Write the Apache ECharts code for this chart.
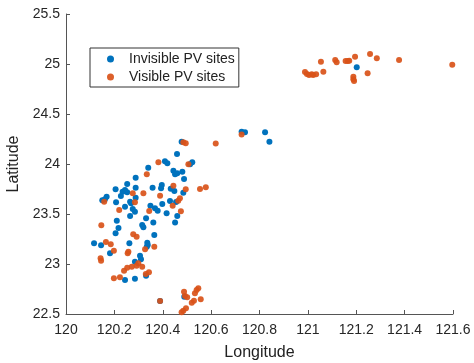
<!DOCTYPE html>
<html>
<head>
<meta charset="utf-8">
<script src="https://cdn.jsdelivr.net/npm/echarts@6/dist/echarts.min.js"></script>
<style>html,body{margin:0;padding:0;background:#fff}#c{width:474px;height:363px}</style>
</head>
<body>
<div id="c"></div>
<script>
// Invisible PV sites: [longitude, latitude]
const invisibleSites = [
[120.459,24.10],[120.409,24.027],[120.419,24.007],[120.522,24.017],[120.340,23.963],
[120.444,23.933],[120.460,23.907],[120.481,23.923],[120.451,23.897],[120.288,23.863],
[120.488,23.85],[120.253,23.80],[120.205,23.747],[120.288,23.763],[120.358,23.763],
[120.396,23.79],[120.393,23.757],[120.433,23.753],[120.234,23.723],[120.244,23.74],
[120.253,23.717],[120.227,23.68],[120.168,23.673],[120.161,23.647],[120.150,23.637],
[120.207,23.617],[120.288,23.663],[120.448,23.73],[120.485,23.713],[120.265,23.623],
[120.269,23.607],[120.430,23.63],[120.455,23.62],[120.244,23.573],[120.398,23.60],
[120.276,23.55],[120.285,23.523],[120.368,23.557],[120.379,23.533],[120.416,23.507],
[120.460,23.48],[120.349,23.583],[120.210,23.433],[120.265,23.48],[120.331,23.457],
[120.315,23.39],[120.320,23.367],[120.361,23.415],[120.451,23.415],[120.217,23.36],
[120.205,23.307],[120.365,23.29],[120.116,23.207],[120.145,23.187],[120.182,23.107],
[120.262,23.207],[120.336,23.213],[120.338,23.19],[120.334,23.173],[120.306,23.083],
[120.310,23.047],[120.285,23.023],[120.244,22.84],[120.285,22.853],[120.331,22.883],
[120.489,22.673],[120.389,22.63],[120.478,24.223],[120.726,24.323],[120.740,24.317],
[120.823,24.317],[120.841,24.223],[121.202,24.967],[120.513,23.997]
];
// Visible PV sites: [longitude, latitude]
const visibleSites = [
[120.485,24.217],[120.495,24.207],[120.619,24.205],[120.726,24.295],[120.382,24.017],
[120.506,23.997],[120.334,23.897],[120.444,23.783],[120.495,23.747],[120.554,23.75],
[120.578,23.767],[120.276,23.707],[120.320,23.707],[120.389,23.683],[120.158,23.623],
[120.285,23.617],[120.471,23.657],[120.464,23.633],[120.441,23.583],[120.220,23.54],
[120.344,23.53],[120.475,23.527],[120.146,23.387],[120.278,23.297],[120.292,23.273],
[120.165,23.22],[120.185,23.197],[120.198,23.133],[120.143,23.057],[120.145,23.033],
[120.258,23.123],[120.255,23.107],[120.327,23.147],[120.365,23.173],[120.240,22.933],
[120.253,22.963],[120.272,22.973],[120.292,22.983],[120.299,23.007],[120.315,22.973],
[120.343,22.917],[120.330,22.90],[120.198,22.857],[120.223,22.867],[120.389,22.63],
[120.488,22.723],[120.492,22.68],[120.501,22.667],[120.547,22.757],[120.540,22.74],
[120.533,22.707],[120.557,22.647],[120.529,22.633],[120.520,22.613],[120.496,22.557],
[120.485,22.533],[120.478,22.517],
[120.988,24.92],[120.996,24.90],[121.005,24.89],[121.016,24.897],[121.022,24.89],
[121.034,24.897],[121.054,25.023],[121.064,24.923],[121.113,25.04],[121.119,25.017],
[121.156,25.03],[121.165,25.03],[121.171,25.033],[121.195,25.073],[121.188,24.873],
[121.188,24.847],[121.191,24.83],[121.247,24.907],[121.257,25.10],[121.285,25.057],
[121.377,25.04],[121.597,24.993]
];
const seriesNames = ['Invisible PV sites', 'Visible PV sites'];
const xTicks = {min: 120, max: 121.6, step: 0.2};
const yTicks = {min: 22.5, max: 25.5, step: 0.5};

const font = 'Arial, "Liberation Sans", Helvetica, sans-serif';
const chart = echarts.init(document.getElementById('c'), null, {renderer: 'canvas'});
const fmt = v => String(+(+v).toFixed(1));
chart.setOption({
  animation: false,
  backgroundColor: '#fff',
  grid: {left: 66, right: 21, top: 14, bottom: 49, containLabel: false, outerBoundsMode: 'none'},
  legend: {
    orient: 'vertical', left: 90, top: 48,
    padding: [4, 4, 3, 17], itemGap: 4,
    itemWidth: 27, itemHeight: 7,
    borderColor: '#333', borderWidth: 1, backgroundColor: '#fff',
    textStyle: {fontFamily: font, fontSize: 14, color: '#222'},
    data: [{name: seriesNames[0], icon: 'circle'}, {name: seriesNames[1], icon: 'circle'}]
  },
  xAxis: {
    type: 'value', min: xTicks.min, max: xTicks.max, interval: xTicks.step,
    name: 'Longitude', nameLocation: 'middle', nameGap: 31,
    nameTextStyle: {fontFamily: font, fontSize: 16, color: '#222'},
    axisLine: {show: true, lineStyle: {color: '#555', width: 1}},
    axisTick: {show: true, inside: true, length: 4, lineStyle: {color: '#555'}},
    axisLabel: {fontFamily: font, fontSize: 14, color: '#262626', margin: 9, formatter: fmt, showMaxLabel: true, showMinLabel: true},
    splitLine: {show: false}
  },
  yAxis: {
    type: 'value', min: yTicks.min, max: yTicks.max, interval: yTicks.step,
    name: 'Latitude', nameLocation: 'middle', nameGap: 39,
    nameTextStyle: {fontFamily: font, fontSize: 16, color: '#222'},
    axisLine: {show: true, lineStyle: {color: '#555', width: 1}},
    axisTick: {show: true, inside: true, length: 4, lineStyle: {color: '#555'}},
    axisLabel: {fontFamily: font, fontSize: 14, color: '#262626', margin: 6, formatter: fmt},
    splitLine: {show: false}
  },
  series: [
    {name: seriesNames[0], type: 'scatter', data: invisibleSites, symbolSize: 6,
     itemStyle: {color: '#0072BD', opacity: 1}},
    {name: seriesNames[1], type: 'scatter', data: visibleSites, symbolSize: 6,
     itemStyle: {color: '#D95319', opacity: 0.92}}
  ]
});
</script>
</body>
</html>
